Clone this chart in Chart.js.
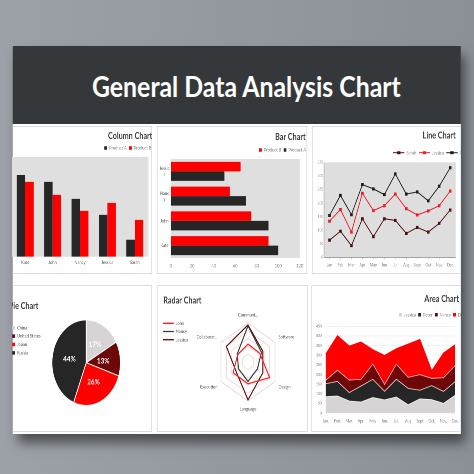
<!DOCTYPE html>
<html><head><meta charset="utf-8">
<script src="https://cdn.jsdelivr.net/npm/chart.js@4.4.1/dist/chart.umd.min.js"></script>
<style>
html,body{margin:0;padding:0;width:474px;height:474px;overflow:hidden;background:#91979d;}
#wrap{position:absolute;left:0;top:0;width:593px;height:474px;transform:scaleX(0.8);transform-origin:0 0;
  background:linear-gradient(90deg,#9ca1a7 0%,#93989e 55%,#8a9096 100%);}
#sheet{position:absolute;left:16px;top:46px;width:560px;height:388px;box-shadow:7px 9px 12px rgba(0,0,0,0.5);}
#header{position:absolute;left:0;top:0;width:560px;height:78px;background:#35383a;}
#header svg{position:absolute;left:0;top:0;}
#panel{position:absolute;left:0;top:78px;width:560px;height:310px;background:#fff;overflow:hidden;}
.card{position:absolute;border:1px solid #dcdcdc;box-sizing:border-box;}
canvas{position:absolute;}
</style></head>
<body>
<div id="wrap">
  <div id="sheet">
    <div id="header">
      <svg width="560" height="78"><text x="99" y="50.7" textLength="386" lengthAdjust="spacingAndGlyphs" font-family="Lato" font-weight="bold" font-size="29" fill="#ffffff">General Data Analysis Chart</text></svg>
    </div>
    <div id="panel">
      <div class="card" style="left:-14px;top:2px;width:188px;height:148px"></div>
      <div class="card" style="left:180px;top:2px;width:188px;height:148px"></div>
      <div class="card" style="left:374px;top:2px;width:188px;height:148px"></div>
      <div class="card" style="left:-14px;top:161px;width:188px;height:147px"></div>
      <div class="card" style="left:180px;top:161px;width:189px;height:147px"></div>
      <div class="card" style="left:373px;top:161px;width:189px;height:147px"></div>
      <canvas id="cCol" width="188" height="148" style="left:-14px;top:2px"></canvas>
      <canvas id="cBar" width="188" height="148" style="left:180px;top:2px"></canvas>
      <canvas id="cLine" width="200" height="148" style="left:374px;top:2px"></canvas>
      <canvas id="cPie" width="188" height="149" style="left:-14px;top:161px"></canvas>
      <canvas id="cRadar" width="210" height="149" style="left:180px;top:161px"></canvas>
      <canvas id="cArea" width="200" height="149" style="left:373px;top:161px"></canvas>
    </div>
  </div>
</div>
<script>
// ---------- data ----------
const columnCategories = ['Kate','John','Nancy','Jessica','Sarah'];
const columnProductA = [82,75,58,42,17];
const columnProductB = [75,62,46,54,37];

const barCategories = ['Jessica','Nancy','John','Kate'];
const barTickLabels = [['Jessic','a'],['Nanc','y'],'John','Kate'];
const barProductB = [65,55,75,91];
const barProductA = [50,70,91,100];

const lineMonths = ['Jan','Feb','Mar','Apr','May','Jun','Jul','Aug','Sept','Oct','Nov','Dec'];
const lineSarah = [63,96,43,142,76,142,136,88,110,93,125,174];
const lineJessica = [133,176,93,236,172,190,233,179,156,171,190,244];
const linePeter = [154,228,157,268,252,231,307,233,241,208,262,330];

const pieLabels = ['China','United States','Japan','Russia'];
const pieValues = [17,13,26,44];

const radarLabels = ['Communi...','Software','Design','Language','Execution','Collaborat...'];
const radarJohn = [46,44,80,56,55,38];
const radarNancy = [93,50,35,50,35,40];
const radarJessica = [95,55,55,97,45,80];

const areaMonths = ['Jan.','Feb.','Mar.','Apr.','May','Jun.','Jul.','Aug','Sept','Oct.','Nov.','Dec.'];
const areaJessica = [85,88,62,57,80,68,83,43,73,69,50,92];
const areaPeter = [67,76,44,83,95,45,92,85,45,73,62,71];
const areaNancy = [18,58,65,35,79,35,78,57,81,38,71,83];
const areaDavid = [136,180,177,194,75,151,81,173,183,40,129,109];

// ---------- colours ----------
const DARK = '#262626', RED = '#ff0000', MAROON = '#6e0707', LIGHT = '#d6d4d4';

Chart.defaults.font.family = 'Lato';
Chart.defaults.color = '#7f7f7f';

// ---------- helper plugins ----------
const plotBg = { id:'plotBg', beforeDraw(chart, a, o){
  if(!o || !o.color) return; const c = chart.chartArea, ctx = chart.ctx;
  ctx.save(); ctx.fillStyle = o.color; ctx.fillRect(c.left, c.top, c.right-c.left, c.bottom-c.top); ctx.restore(); } };

const placer = { id:'placer', afterLayout(chart, a, o){
  const W = chart.width, H = chart.height;
  const t = chart.titleBlock;
  if (o && o.title && t) {
    const {x, cy, lh, align} = o.title;
    if (align === 'end') { t.left = -W; t.right = x; } else { t.left = x; t.right = x + W*2; }
    t.top = cy - lh/2; t.bottom = t.top + lh; t.width = t.right - t.left; t.height = lh;
  }
  const L = chart.legend;
  if (o && o.legend && L) {
    const {x, cy, ih, pad} = o.legend;
    L.left = x - pad; L.right = x + W*3;
    L.top = cy - ih/2 - pad; L.bottom = L.top + H*2;
    L.width = L.right - L.left; L.height = L.bottom - L.top;
  }
} };

const pieLabelPlugin = { id:'pieLabels', afterDatasetsDraw(chart){
  const ctx = chart.ctx, meta = chart.getDatasetMeta(0), data = chart.data.datasets[0].data;
  ctx.save(); ctx.fillStyle = '#ffffff'; ctx.font = 'bold 8px Lato'; ctx.textAlign = 'center'; ctx.textBaseline = 'middle';
  meta.data.forEach((arc, i) => { const p = arc.tooltipPosition(); ctx.fillText(data[i] + '%', p.x, p.y); });
  ctx.restore(); } };

function base(pad, extra){
  return Object.assign({responsive:false, animation:false, devicePixelRatio:2, events:[], layout:{padding:pad}}, extra);
}
function titleCfg(text, align){
  return {display:true, text, align, color:'#404040', font:{family:'Lato', size:9, weight:'bold', lineHeight:1.2}, padding:{top:0, bottom:-10.8}};
}
function legendCfg(position, labels){
  const c = {display:true, position, align:'start', labels:Object.assign({font:{family:'Lato', size:5}, color:'#7f7f7f', padding:3}, labels)};
  if (position === 'left') c.maxWidth = 0.01; else c.maxHeight = 0.01;
  return c;
}
const defaultLabels = (chart) => Chart.defaults.plugins.legend.labels.generateLabels(chart);

// ---------- column chart ----------
new Chart(document.getElementById('cCol'), {
  type:'bar',
  data:{labels:columnCategories, datasets:[
    {label:'Product A', data:columnProductA, backgroundColor:DARK, categoryPercentage:0.62, barPercentage:1},
    {label:'Product B', data:columnProductB, backgroundColor:RED, categoryPercentage:0.62, barPercentage:1}]},
  options: base({left:12.4, right:4.4, top:31, bottom:7.3}, {
    scales:{
      x:{grid:{display:false, drawTicks:false}, border:{display:false}, ticks:{font:{size:5}, color:'#595959', padding:2.7, maxRotation:0, autoSkip:false}, afterFit:s=>{s.height=10;}},
      y:{display:false, min:0, max:100}
    },
    plugins:{title:titleCfg('Column Chart','end'), legend:legendCfg('top',{boxWidth:3.5, boxHeight:3.5}), tooltip:{enabled:false},
      placer:{title:{x:188.5, cy:10, lh:10.8, align:'end'}, legend:{x:128.4, cy:22, ih:5, pad:3}}, plotBg:{color:'#dfdfdf'}}
  }),
  plugins:[plotBg, placer]
});

// ---------- bar chart ----------
new Chart(document.getElementById('cBar'), {
  type:'bar',
  data:{labels:barCategories, datasets:[
    {label:'Product B', data:barProductB, backgroundColor:RED, categoryPercentage:0.77, barPercentage:1},
    {label:'Product A', data:barProductA, backgroundColor:DARK, categoryPercentage:0.77, barPercentage:1}]},
  options: base({left:0, right:5.6, top:33, bottom:5}, {
    indexAxis:'y',
    scales:{
      x:{min:0, max:120, ticks:{stepSize:20, font:{size:5}, color:'#7f7f7f', padding:5, maxRotation:0}, grid:{display:false, drawTicks:false}, border:{display:false}, afterFit:s=>{s.height=11;}},
      y:{ticks:{callback:(v,i)=>barTickLabels[i], font:{size:5, lineHeight:1.1}, color:'#595959', padding:1.5, crossAlign:'center', autoSkip:false}, grid:{display:false, drawTicks:false}, border:{display:false}, afterFit:s=>{s.width=17.4;}}
    },
    plugins:{title:titleCfg('Bar Chart','end'), legend:legendCfg('top',{boxWidth:3.5, boxHeight:3.5}), tooltip:{enabled:false},
      placer:{title:{x:186.1, cy:11.3, lh:10.8, align:'end'}, legend:{x:127.75, cy:24, ih:5, pad:3}}, plotBg:{color:'#dfdfdf'}}
  }),
  plugins:[plotBg, placer]
});

// ---------- pie chart ----------
new Chart(document.getElementById('cPie'), {
  type:'pie',
  data:{labels:pieLabels, datasets:[{data:pieValues, backgroundColor:[LIGHT, MAROON, RED, DARK], borderColor:'#ffffff', borderWidth:1}]},
  options: base({left:62.45, right:38.95, top:34.4, bottom:28}, {
    plugins:{title:titleCfg('Pie Chart','start'),
      legend:legendCfg('left',{boxWidth:3.5, boxHeight:3.5, padding:3.4, color:'#595959',
        generateLabels:(chart)=>Chart.overrides.pie.plugins.legend.labels.generateLabels(chart).map(l=>Object.assign(l,{lineWidth:0}))}),
      tooltip:{enabled:false},
      placer:{title:{x:9, cy:21, lh:10.8, align:'start'}, legend:{x:13.35, cy:42.7, ih:5, pad:3.4}}}
  }),
  plugins:[placer, pieLabelPlugin]
});

// ---------- radar chart ----------
new Chart(document.getElementById('cRadar'), {
  type:'radar',
  data:{labels:radarLabels, datasets:[
    {label:'John', data:radarJohn, borderColor:'#ff1f1f', backgroundColor:'#ff1f1f', fill:false, borderWidth:1.3, pointRadius:0},
    {label:'Nancy', data:radarNancy, borderColor:'#3a3a3a', backgroundColor:'#3a3a3a', fill:false, borderWidth:1.3, pointRadius:0},
    {label:'Jessica', data:radarJessica, borderColor:'#5a1414', backgroundColor:'#5a1414', fill:false, borderWidth:1.3, pointRadius:0}]},
  options: base({left:34, right:16, top:27, bottom:22}, {
    scales:{r:{min:0, max:100, ticks:{display:false, stepSize:20}, grid:{color:'#ecd2d2', lineWidth:0.8}, angleLines:{display:false},
      pointLabels:{font:{size:5}, color:'#595959', padding:5}}},
    plugins:{title:titleCfg('Radar Chart','start'),
      legend:legendCfg('left',{boxWidth:13.5, boxHeight:1.3, padding:3.2, color:'#595959',
        generateLabels:(chart)=>defaultLabels(chart).map(l=>Object.assign(l,{fillStyle:l.strokeStyle, lineWidth:0}))}),
      tooltip:{enabled:false},
      placer:{title:{x:8.1, cy:15.7, lh:10.8, align:'start'}, legend:{x:7.75, cy:38.3, ih:5, pad:3.2}}}
  }),
  plugins:[placer]
});

// ---------- area chart ----------
new Chart(document.getElementById('cArea'), {
  type:'line',
  data:{labels:areaMonths, datasets:[
    {label:'Jessica', data:areaJessica, backgroundColor:LIGHT, borderColor:'#f4f0f0', borderWidth:0.8, fill:'origin', pointRadius:0, tension:0},
    {label:'Peter', data:areaPeter, backgroundColor:DARK, borderColor:'#f3d9d9', borderWidth:0.8, fill:'-1', pointRadius:0, tension:0},
    {label:'Nancy', data:areaNancy, backgroundColor:MAROON, borderColor:'#f0c4c4', borderWidth:0.8, fill:'-1', pointRadius:0, tension:0},
    {label:'David', data:areaDavid, backgroundColor:RED, borderColor:RED, borderWidth:0.8, fill:'-1', pointRadius:0, tension:0}]},
  options: base({left:0, right:19.9, top:41.3, bottom:9}, {
    scales:{
      x:{grid:{display:false, drawTicks:false}, border:{display:false}, ticks:{font:{size:4.5}, color:'#7f7f7f', padding:5.3, maxRotation:0, autoSkip:false}, afterFit:s=>{s.height=12;}},
      y:{stacked:true, min:0, max:450, ticks:{stepSize:50, font:{size:4}, color:'#7f7f7f', padding:5}, grid:{color:'#e6e6e6', lineWidth:0.6, drawTicks:false}, border:{display:false}, afterFit:s=>{s.width=18.1;}}
    },
    plugins:{title:titleCfg('Area Chart','end'),
      legend:legendCfg('top',{boxWidth:3.5, boxHeight:3.5, generateLabels:(chart)=>defaultLabels(chart).map(l=>Object.assign(l,{lineWidth:0}))}),
      tooltip:{enabled:false},
      placer:{title:{x:184.75, cy:14, lh:10.8, align:'end'}, legend:{x:109.75, cy:29.7, ih:5, pad:3}}}
  }),
  plugins:[placer]
});

// ---------- line chart ----------
function marker(color){
  const c = document.createElement('canvas'); c.width = 28; c.height = 10;
  const g = c.getContext('2d'); g.strokeStyle = color; g.lineWidth = 2;
  g.beginPath(); g.moveTo(0,5); g.lineTo(28,5); g.stroke();
  g.fillStyle = color; g.fillRect(10,2,8,6);
  const img = new Image(14,5); img.src = c.toDataURL(); return img;
}
const lineColors = ['#4f0e0e', '#ee1c25', '#1e1e1e'];
const lineMarkers = lineColors.map(marker);
function makeLine(){
  new Chart(document.getElementById('cLine'), {
    type:'line',
    data:{labels:lineMonths, datasets:[
      {label:'Sarah', data:lineSarah, borderColor:lineColors[0], backgroundColor:lineColors[0]},
      {label:'Jessica', data:lineJessica, borderColor:lineColors[1], backgroundColor:lineColors[1]},
      {label:'Peter', data:linePeter, borderColor:lineColors[2], backgroundColor:lineColors[2]}
    ].map(d=>Object.assign(d,{borderWidth:1, pointRadius:2.2, pointStyle:'rect', pointBorderWidth:0, tension:0, fill:false}))},
    options: base({left:0, right:20.4, top:36.3, bottom:4.7}, {
      scales:{
        x:{offset:true, grid:{display:true, drawOnChartArea:false, drawTicks:true, tickLength:2, color:'#9a9a9a', lineWidth:0.5},
           border:{display:true, color:'#8a8a8a', dash:[1,1], width:0.8}, ticks:{font:{size:4.5}, color:'#7f7f7f', padding:3, maxRotation:0, autoSkip:false}, afterFit:s=>{s.height=12;}},
        y:{min:0, max:350, ticks:{stepSize:50, font:{size:4}, color:'#7f7f7f', padding:1}, grid:{display:false, drawTicks:false},
           border:{display:true, color:'#8a8a8a', dash:[1,1], width:0.8}, afterFit:s=>{s.width=15;}}
      },
      plugins:{title:titleCfg('Line Chart','end'),
        legend:legendCfg('top',{usePointStyle:true, pointStyleWidth:14, boxHeight:5,
          generateLabels:(chart)=>defaultLabels(chart).map(l=>Object.assign(l,{pointStyle:lineMarkers[l.datasetIndex]}))}),
        tooltip:{enabled:false},
        placer:{title:{x:179.6, cy:9.7, lh:10.8, align:'end'}, legend:{x:101.6, cy:26.7, ih:5, pad:3}}, plotBg:{color:'#dedede'}}
    }),
    plugins:[plotBg, placer]
  });
}
Promise.all(lineMarkers.map(i => (i.decode ? i.decode() : Promise.resolve()).catch(()=>{}))).then(makeLine, makeLine);
</script>
</body></html>
